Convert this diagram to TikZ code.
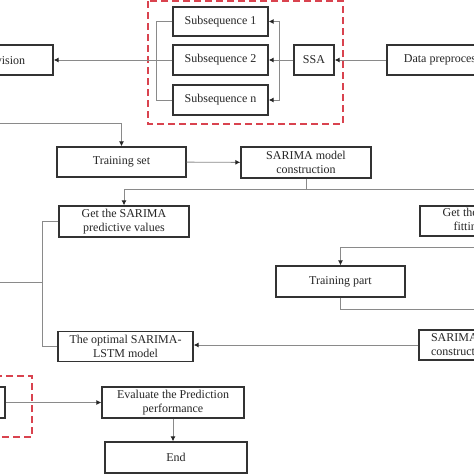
\documentclass[tikz,border=0pt]{standalone}
\usepackage{fontspec}
\setmainfont{Liberation Serif}
\usepackage{xcolor}
\usepackage{tikz}
\usetikzlibrary{arrows.meta}
\definecolor{bordo}{HTML}{333333}
\definecolor{grigio}{HTML}{8A8A8A}
\definecolor{rosso}{HTML}{D9434F}

\begin{document}
\begin{tikzpicture}[x=1pt, y=-1pt,
            box/.style={draw=bordo, line width=1.3pt, fill=white, text=black!85,
                    font=\fontsize{12}{14}\selectfont,
                    minimum width=130pt, minimum height=30pt, inner sep=1pt,
                    align=center},
            link/.style={draw=grigio, line width=0.9pt},
            arrow/.style={link, -{Latex[length=5pt, width=5pt, color=black!85]}},
            group/.style={draw=rosso, line width=1.6pt, dash pattern=on 7pt off 4pt}
        ]
        \useasboundingbox (0,0) rectangle (474,474);
        \clip (0,0) rectangle (474,474);

        % Coordinate assolute, in pixel della figura (y verso il basso)
        \draw[group] (148,1) rectangle (343,124);
        \draw[group] (-80,376) rectangle (32,437);

        \node[box, minimum width=120pt] (div) at (-7, 60) {Data division};
        \node[box, minimum width=95pt, minimum height=29pt] (sub1) at (220.5, 21.5) {Subsequence 1};
        \node[box, minimum width=95pt] (sub2) at (220.5, 60) {Subsequence 2};
        \node[box, minimum width=95pt] (subn) at (220.5, 100) {Subsequence n};
        \node[box, minimum width=40pt] (ssa) at (314, 60) {SSA};
        \node[box, minimum width=126pt] (prep) at (450, 60) {Data preprocessing};

        \node[box, minimum width=129pt] (train) at (121.5, 162) {Training set};
        \node[box, minimum height=31pt] (smc) at (306, 162.5) {SARIMA model\\construction};
        \node[box, minimum height=31pt] (pred) at (124, 221.5) {Get the SARIMA\\predictive values};
        \node[box] (fit) at (485, 221) {Get the SARIMA\\fitting values};
        \node[box, minimum width=129pt, minimum height=31pt] (tpart) at (340.5, 281.5) {Training part};
        \node[box, align=left, text width=106pt, inner xsep=12pt] (lstmc) at (484, 345) {SARIMA-LSTM\\construction};
        \node[box, minimum width=135pt] (opt) at (125.5, 346.5) {The optimal SARIMA-\\LSTM model};

        \node[box, minimum height=31pt] (res) at (-60, 402.5) {};
        \node[box, minimum width=142pt, minimum height=31pt] (evl) at (173, 402.5) {Evaluate the Prediction\\performance};
        \node[box, minimum width=142pt, minimum height=31pt] (end) at (176, 457.5) {End};

        \coordinate (lstm) at (530, 309);
        \coordinate (tst) at (-20, 282);
        \coordinate (join) at (43, 282);

        \draw[arrow] (prep) -- (ssa);
        \draw[arrow] (ssa) -- (sub2);
        \draw[arrow] (ssa.west) ++(-14,0) |- (sub1.east);
        \draw[arrow] (ssa.west) ++(-14,0) |- (subn.east);
        \draw[link] (sub1.west) -- ++(-16,0) |- (subn.west);
        \draw[arrow] (sub2) -- (div);

        \draw[arrow] (div.south) -- ++(0,48) -| (train.north);
        \draw[arrow] (train) -- (smc);
        \draw[link] (smc.south) -- ++(0,11) coordinate (split);
        \draw[arrow] (split) -| (pred.north);
        \draw[arrow] (split) -| (fit.north);
        \draw[arrow] (fit.south) -- ++(0,11) -| (tpart.north);
        \draw[link] (tpart.south) |- (lstm);

        \draw[link] (pred.west) -- ++(-16,0) |- (opt.west);
        \draw[link] (tst) -- (join);
        \draw[arrow] (lstmc.west) -- (opt.east |- lstmc.west);

        \draw[arrow] (res) -- (evl);
        \draw[arrow] (evl.south) -- (evl.south |- end.north);
    \end{tikzpicture}
\end{document}
